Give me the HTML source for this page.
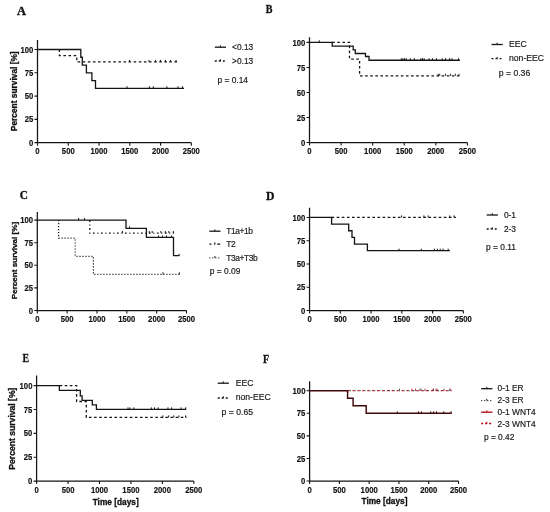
<!DOCTYPE html>
<html><head><meta charset="utf-8">
<style>
html,body{margin:0;padding:0;background:#fff;}
body{width:550px;height:512px;overflow:hidden;}
svg{display:block;will-change:transform;}
text{font-family:"Liberation Sans", sans-serif;fill:#111;}
.tk{font-size:7.7px;font-weight:bold;stroke:#111;stroke-width:0.15px;}
.lg{font-size:8.4px;fill:#1a1a1a;stroke:#1a1a1a;stroke-width:0.18px;}
.lc{letter-spacing:-0.4px;}
.lb{font-size:8.65px;}
.yl{font-size:7.9px;font-weight:bold;stroke:#111;stroke-width:0.3px;}
.xl{font-size:8.3px;font-weight:bold;stroke:#111;stroke-width:0.3px;}
.pl{font-family:"Liberation Serif", serif;font-size:12.5px;font-weight:bold;stroke:#111;stroke-width:0.35px;}
</style></head>
<body>
<svg width="550" height="512" viewBox="0 0 550 512">
<rect width="550" height="512" fill="#fff"/>
<text transform="translate(17.0 14.6) scale(1.0 1)" class="pl">A</text>
<text transform="translate(265.8 12.9) scale(0.8 1)" class="pl">B</text>
<text transform="translate(19.8 199.0) scale(0.9 1)" class="pl">C</text>
<text transform="translate(266.0 199.8) scale(0.94 1)" class="pl">D</text>
<text transform="translate(22.6 361.9) scale(0.78 1)" class="pl">E</text>
<text transform="translate(263.1 362.9) scale(0.8 1)" class="pl">F</text>
<path d="M37.50 40.00V142.65H191.35" fill="none" stroke="#141414" stroke-width="1.25"/>
<text transform="translate(33.30 145.75) scale(1 1.12)" text-anchor="end" class="tk">0</text>
<text transform="translate(33.30 122.46) scale(1 1.12)" text-anchor="end" class="tk">25</text>
<text transform="translate(33.30 99.17) scale(1 1.12)" text-anchor="end" class="tk">50</text>
<text transform="translate(33.30 75.89) scale(1 1.12)" text-anchor="end" class="tk">75</text>
<text transform="translate(33.30 52.60) scale(1 1.12)" text-anchor="end" class="tk">100</text>
<text transform="translate(37.50 154.15) scale(1 1.12)" text-anchor="middle" class="tk">0</text>
<text transform="translate(68.27 154.15) scale(1 1.12)" text-anchor="middle" class="tk">500</text>
<text transform="translate(99.04 154.15) scale(1 1.12)" text-anchor="middle" class="tk">1000</text>
<text transform="translate(129.81 154.15) scale(1 1.12)" text-anchor="middle" class="tk">1500</text>
<text transform="translate(160.58 154.15) scale(1 1.12)" text-anchor="middle" class="tk">2000</text>
<text transform="translate(191.35 154.15) scale(1 1.12)" text-anchor="middle" class="tk">2500</text>
<path d="M34.50 142.65H37.50M34.50 119.36H37.50M34.50 96.08H37.50M34.50 72.79H37.50M34.50 49.50H37.50M37.50 142.65V145.65M68.27 142.65V145.65M99.04 142.65V145.65M129.81 142.65V145.65M160.58 142.65V145.65M191.35 142.65V145.65" stroke="#141414" stroke-width="1.1"/>
<path d="M59.40 49.50H59.40V55.71H76.80V61.92H178.50" fill="none" stroke="#141414" stroke-width="1.3" stroke-dasharray="2.6 2.5"/>
<path d="M129.50 61.92v-2.00M149.00 61.92v-2.00M155.60 61.92v-2.00M160.50 61.92v-2.00M165.50 61.92v-2.00M170.40 61.92v-2.00M176.00 61.92v-2.00" fill="none" stroke="#141414" stroke-width="1.0"/>
<path d="M37.50 49.50H80.80V57.26H82.30V65.03H86.40V72.79H91.90V80.55H95.50V88.32H183.90" fill="none" stroke="#141414" stroke-width="1.3"/>
<path d="M127.00 88.32v-2.00M149.40 88.32v-2.00M153.30 88.32v-2.00M166.90 88.32v-2.00M178.00 88.32v-2.00M182.60 88.32v-2.00" fill="none" stroke="#141414" stroke-width="1.0"/>
<path d="M214.80 47.20h11.2" stroke="#141414" stroke-width="1.3"/><path d="M220.40 47.20v-1.8" stroke="#141414" stroke-width="1"/>
<path d="M214.80 61.00h11.2" stroke="#141414" stroke-width="1.3" stroke-dasharray="2 2"/><path d="M220.40 61.00v-1.8" stroke="#141414" stroke-width="1"/>
<text x="232.00" y="50.00" class="lg" text-anchor="start">&lt;0.13</text>
<text x="232.00" y="63.70" class="lg" text-anchor="start">&gt;0.13</text>
<text x="217.50" y="83.00" class="lg" text-anchor="start">p = 0.14</text>
<text transform="translate(16.50 91.25) rotate(-90)" text-anchor="middle" class="yl" style="font-size:8.35px">Percent survival [%]</text>
<path d="M309.50 37.30V142.55H467.40" fill="none" stroke="#141414" stroke-width="1.25"/>
<text transform="translate(305.30 145.65) scale(1 1.12)" text-anchor="end" class="tk">0</text>
<text transform="translate(305.30 120.61) scale(1 1.12)" text-anchor="end" class="tk">25</text>
<text transform="translate(305.30 95.58) scale(1 1.12)" text-anchor="end" class="tk">50</text>
<text transform="translate(305.30 70.54) scale(1 1.12)" text-anchor="end" class="tk">75</text>
<text transform="translate(305.30 45.50) scale(1 1.12)" text-anchor="end" class="tk">100</text>
<text transform="translate(309.50 154.05) scale(1 1.12)" text-anchor="middle" class="tk">0</text>
<text transform="translate(341.08 154.05) scale(1 1.12)" text-anchor="middle" class="tk">500</text>
<text transform="translate(372.66 154.05) scale(1 1.12)" text-anchor="middle" class="tk">1000</text>
<text transform="translate(404.24 154.05) scale(1 1.12)" text-anchor="middle" class="tk">1500</text>
<text transform="translate(435.82 154.05) scale(1 1.12)" text-anchor="middle" class="tk">2000</text>
<text transform="translate(467.40 154.05) scale(1 1.12)" text-anchor="middle" class="tk">2500</text>
<path d="M306.50 142.55H309.50M306.50 117.51H309.50M306.50 92.48H309.50M306.50 67.44H309.50M306.50 42.40H309.50M309.50 142.55V145.55M341.08 142.55V145.55M372.66 142.55V145.55M404.24 142.55V145.55M435.82 142.55V145.55M467.40 142.55V145.55" stroke="#141414" stroke-width="1.1"/>
<path d="M332.20 42.40H349.50V59.10H359.60V75.78H459.40" fill="none" stroke="#141414" stroke-width="1.3" stroke-dasharray="2.6 2.5"/>
<path d="M438.10 75.78v-2.00M439.70 75.78v-2.00M445.50 75.78v-2.00M450.40 75.78v-2.00M455.30 75.78v-2.00M458.90 75.78v-2.00" fill="none" stroke="#141414" stroke-width="1.0"/>
<path d="M309.50 42.40H332.20V46.11H353.20V49.81H355.30V53.52H365.50V56.52H369.00V60.23H459.90" fill="none" stroke="#141414" stroke-width="1.3"/>
<path d="M319.30 42.40v-2.00M401.30 60.23v-2.00M402.90 60.23v-2.00M404.50 60.23v-2.00M406.20 60.23v-2.00M410.30 60.23v-2.00M414.40 60.23v-2.00M420.90 60.23v-2.00M422.50 60.23v-2.00M424.20 60.23v-2.00M429.10 60.23v-2.00M432.40 60.23v-2.00M436.50 60.23v-2.00M442.20 60.23v-2.00M445.50 60.23v-2.00M449.60 60.23v-2.00M452.00 60.23v-2.00M458.60 60.23v-2.00" fill="none" stroke="#141414" stroke-width="1.0"/>
<path d="M491.50 44.50h11.2" stroke="#141414" stroke-width="1.3"/><path d="M497.10 44.50v-1.8" stroke="#141414" stroke-width="1"/>
<path d="M491.50 58.70h11.2" stroke="#141414" stroke-width="1.3" stroke-dasharray="2 2"/><path d="M497.10 58.70v-1.8" stroke="#141414" stroke-width="1"/>
<text x="509.00" y="47.30" class="lg lb" text-anchor="start">EEC</text>
<text x="509.00" y="61.40" class="lg lb" text-anchor="start">non-EEC</text>
<text x="498.80" y="76.30" class="lg lb" text-anchor="start">p = 0.36</text>
<path d="M37.30 212.00V310.50H186.50" fill="none" stroke="#141414" stroke-width="1.25"/>
<text transform="translate(33.10 313.60) scale(1 1.12)" text-anchor="end" class="tk">0</text>
<text transform="translate(33.10 291.00) scale(1 1.12)" text-anchor="end" class="tk">25</text>
<text transform="translate(33.10 268.40) scale(1 1.12)" text-anchor="end" class="tk">50</text>
<text transform="translate(33.10 245.80) scale(1 1.12)" text-anchor="end" class="tk">75</text>
<text transform="translate(33.10 223.20) scale(1 1.12)" text-anchor="end" class="tk">100</text>
<text transform="translate(37.30 322.00) scale(1 1.12)" text-anchor="middle" class="tk">0</text>
<text transform="translate(67.14 322.00) scale(1 1.12)" text-anchor="middle" class="tk">500</text>
<text transform="translate(96.98 322.00) scale(1 1.12)" text-anchor="middle" class="tk">1000</text>
<text transform="translate(126.82 322.00) scale(1 1.12)" text-anchor="middle" class="tk">1500</text>
<text transform="translate(156.66 322.00) scale(1 1.12)" text-anchor="middle" class="tk">2000</text>
<text transform="translate(186.50 322.00) scale(1 1.12)" text-anchor="middle" class="tk">2500</text>
<path d="M34.30 310.50H37.30M34.30 287.90H37.30M34.30 265.30H37.30M34.30 242.70H37.30M34.30 220.10H37.30M37.30 310.50V313.50M67.14 310.50V313.50M96.98 310.50V313.50M126.82 310.50V313.50M156.66 310.50V313.50M186.50 310.50V313.50" stroke="#141414" stroke-width="1.1"/>
<path d="M58.60 220.10H58.60V238.18H75.20V256.26H93.40V274.34H179.60" fill="none" stroke="#141414" stroke-width="1.25" stroke-dasharray="1.1 1.9"/>
<path d="M163.00 274.34v-2.00M179.30 274.34v-2.00" fill="none" stroke="#141414" stroke-width="1.0"/>
<path d="M89.80 220.10H89.80V233.03H174.00" fill="none" stroke="#141414" stroke-width="1.3" stroke-dasharray="1.8 2.6 1.1 2.5"/>
<path d="M84.50 220.10v-2.00M122.40 233.03v-2.00M149.30 233.03v-2.00M152.20 233.03v-2.00M160.90 233.03v-2.00M165.30 233.03v-2.00M168.90 233.03v-2.00M173.30 233.03v-2.00" fill="none" stroke="#141414" stroke-width="1.0"/>
<path d="M37.30 220.10H126.00V228.33H146.40V237.46H173.50V255.72H179.30" fill="none" stroke="#141414" stroke-width="1.3"/>
<path d="M78.60 220.10v-2.00M129.60 228.33v-2.00M158.50 237.46v-2.00M162.60 237.46v-2.00M166.50 237.46v-2.00M171.60 237.46v-2.00M179.10 255.72v-2.00" fill="none" stroke="#141414" stroke-width="1.0"/>
<path d="M209.30 231.20h11.2" stroke="#141414" stroke-width="1.3"/><path d="M214.90 231.20v-1.8" stroke="#141414" stroke-width="1"/>
<path d="M209.30 244.20h11.2" stroke="#141414" stroke-width="1.3" stroke-dasharray="2.1 2.6 1 2.2 3 10"/><path d="M214.90 244.20v-1.8" stroke="#141414" stroke-width="1"/>
<path d="M209.30 257.90h11.2" stroke="#141414" stroke-width="1.0" stroke-dasharray="1.1 1.9"/><path d="M214.90 257.90v-1.8" stroke="#141414" stroke-width="1"/>
<text x="226.30" y="233.70" class="lg lc" text-anchor="start">T1a+1b</text>
<text x="226.30" y="247.20" class="lg lc" text-anchor="start">T2</text>
<text x="226.30" y="260.60" class="lg lc" text-anchor="start">T3a+T3b</text>
<text x="209.80" y="273.60" class="lg" text-anchor="start">p = 0.09</text>
<text transform="translate(16.60 260.50) rotate(-90)" text-anchor="middle" class="yl" style="font-size:8.1px">Percent survival [%]</text>
<path d="M309.55 207.80V310.50H463.35" fill="none" stroke="#141414" stroke-width="1.25"/>
<text transform="translate(305.35 313.60) scale(1 1.12)" text-anchor="end" class="tk">0</text>
<text transform="translate(305.35 290.34) scale(1 1.12)" text-anchor="end" class="tk">25</text>
<text transform="translate(305.35 267.08) scale(1 1.12)" text-anchor="end" class="tk">50</text>
<text transform="translate(305.35 243.81) scale(1 1.12)" text-anchor="end" class="tk">75</text>
<text transform="translate(305.35 220.55) scale(1 1.12)" text-anchor="end" class="tk">100</text>
<text transform="translate(309.55 322.00) scale(1 1.12)" text-anchor="middle" class="tk">0</text>
<text transform="translate(340.31 322.00) scale(1 1.12)" text-anchor="middle" class="tk">500</text>
<text transform="translate(371.07 322.00) scale(1 1.12)" text-anchor="middle" class="tk">1000</text>
<text transform="translate(401.83 322.00) scale(1 1.12)" text-anchor="middle" class="tk">1500</text>
<text transform="translate(432.59 322.00) scale(1 1.12)" text-anchor="middle" class="tk">2000</text>
<text transform="translate(463.35 322.00) scale(1 1.12)" text-anchor="middle" class="tk">2500</text>
<path d="M306.55 310.50H309.55M306.55 287.24H309.55M306.55 263.98H309.55M306.55 240.71H309.55M306.55 217.45H309.55M309.55 310.50V313.50M340.31 310.50V313.50M371.07 310.50V313.50M401.83 310.50V313.50M432.59 310.50V313.50M463.35 310.50V313.50" stroke="#141414" stroke-width="1.1"/>
<path d="M331.60 217.45H455.90" fill="none" stroke="#141414" stroke-width="1.3" stroke-dasharray="2.6 2.5"/>
<path d="M401.60 217.45v-2.00M423.90 217.45v-2.00M428.10 217.45v-2.00M449.60 217.45v-2.00M454.00 217.45v-2.00" fill="none" stroke="#141414" stroke-width="1.0"/>
<path d="M309.55 217.45H331.60V224.09H348.70V230.75H352.00V237.39H354.50V244.03H367.40V250.68H449.90" fill="none" stroke="#141414" stroke-width="1.3"/>
<path d="M399.00 250.68v-2.00M421.30 250.68v-2.00M434.40 250.68v-2.00M437.30 250.68v-2.00M440.20 250.68v-2.00M443.10 250.68v-2.00M448.20 250.68v-2.00" fill="none" stroke="#141414" stroke-width="1.0"/>
<path d="M486.70 215.00h11.2" stroke="#141414" stroke-width="1.3"/><path d="M492.30 215.00v-1.8" stroke="#141414" stroke-width="1"/>
<path d="M486.70 229.00h11.2" stroke="#141414" stroke-width="1.3" stroke-dasharray="2 2"/><path d="M492.30 229.00v-1.8" stroke="#141414" stroke-width="1"/>
<text x="503.90" y="217.80" class="lg" text-anchor="start">0-1</text>
<text x="503.90" y="231.70" class="lg" text-anchor="start">2-3</text>
<text x="486.10" y="250.30" class="lg" text-anchor="start">p = 0.11</text>
<path d="M36.60 375.60V481.10H193.80" fill="none" stroke="#141414" stroke-width="1.25"/>
<text transform="translate(32.40 484.20) scale(1 1.12)" text-anchor="end" class="tk">0</text>
<text transform="translate(32.40 460.33) scale(1 1.12)" text-anchor="end" class="tk">25</text>
<text transform="translate(32.40 436.45) scale(1 1.12)" text-anchor="end" class="tk">50</text>
<text transform="translate(32.40 412.58) scale(1 1.12)" text-anchor="end" class="tk">75</text>
<text transform="translate(32.40 388.70) scale(1 1.12)" text-anchor="end" class="tk">100</text>
<text transform="translate(36.60 492.60) scale(1 1.12)" text-anchor="middle" class="tk">0</text>
<text transform="translate(68.04 492.60) scale(1 1.12)" text-anchor="middle" class="tk">500</text>
<text transform="translate(99.48 492.60) scale(1 1.12)" text-anchor="middle" class="tk">1000</text>
<text transform="translate(130.92 492.60) scale(1 1.12)" text-anchor="middle" class="tk">1500</text>
<text transform="translate(162.36 492.60) scale(1 1.12)" text-anchor="middle" class="tk">2000</text>
<text transform="translate(193.80 492.60) scale(1 1.12)" text-anchor="middle" class="tk">2500</text>
<path d="M33.60 481.10H36.60M33.60 457.23H36.60M33.60 433.35H36.60M33.60 409.48H36.60M33.60 385.60H36.60M36.60 481.10V484.10M68.04 481.10V484.10M99.48 481.10V484.10M130.92 481.10V484.10M162.36 481.10V484.10M193.80 481.10V484.10" stroke="#141414" stroke-width="1.1"/>
<path d="M59.60 385.60H76.60V401.52H86.30V417.43H186.60" fill="none" stroke="#141414" stroke-width="1.3" stroke-dasharray="2.6 2.5"/>
<path d="M162.90 417.43v-2.00M168.70 417.43v-2.00M173.80 417.43v-2.00M178.90 417.43v-2.00M185.50 417.43v-2.00" fill="none" stroke="#141414" stroke-width="1.0"/>
<path d="M36.60 385.60H59.40V390.47H80.30V395.82H82.10V400.31H92.30V404.89H96.40V409.38H186.20" fill="none" stroke="#141414" stroke-width="1.3"/>
<path d="M128.00 409.38v-2.00M129.90 409.38v-2.00M133.80 409.38v-2.00M151.30 409.38v-2.00M154.50 409.38v-2.00M158.10 409.38v-2.00M168.00 409.38v-2.00M171.60 409.38v-2.00M181.10 409.38v-2.00M185.70 409.38v-2.00" fill="none" stroke="#141414" stroke-width="1.0"/>
<path d="M217.70 383.20h11.2" stroke="#141414" stroke-width="1.3"/><path d="M223.30 383.20v-1.8" stroke="#141414" stroke-width="1"/>
<path d="M217.70 398.00h11.2" stroke="#141414" stroke-width="1.3" stroke-dasharray="2 2"/><path d="M223.30 398.00v-1.8" stroke="#141414" stroke-width="1"/>
<text x="235.70" y="386.10" class="lg lb" text-anchor="start">EEC</text>
<text x="235.70" y="400.30" class="lg lb" text-anchor="start">non-EEC</text>
<text x="221.60" y="414.60" class="lg lb" text-anchor="start">p = 0.65</text>
<text transform="translate(14.80 428.60) rotate(-90)" text-anchor="middle" class="yl" style="font-size:8.6px">Percent survival [%]</text>
<text x="115.70" y="504.90" class="xl" text-anchor="middle">Time [days]</text>
<path d="M309.60 381.30V481.00H458.50" fill="none" stroke="#141414" stroke-width="1.25"/>
<text transform="translate(305.40 484.10) scale(1 1.12)" text-anchor="end" class="tk">0</text>
<text transform="translate(305.40 461.53) scale(1 1.12)" text-anchor="end" class="tk">25</text>
<text transform="translate(305.40 438.95) scale(1 1.12)" text-anchor="end" class="tk">50</text>
<text transform="translate(305.40 416.38) scale(1 1.12)" text-anchor="end" class="tk">75</text>
<text transform="translate(305.40 393.80) scale(1 1.12)" text-anchor="end" class="tk">100</text>
<text transform="translate(309.60 492.50) scale(1 1.12)" text-anchor="middle" class="tk">0</text>
<text transform="translate(339.38 492.50) scale(1 1.12)" text-anchor="middle" class="tk">500</text>
<text transform="translate(369.16 492.50) scale(1 1.12)" text-anchor="middle" class="tk">1000</text>
<text transform="translate(398.94 492.50) scale(1 1.12)" text-anchor="middle" class="tk">1500</text>
<text transform="translate(428.72 492.50) scale(1 1.12)" text-anchor="middle" class="tk">2000</text>
<text transform="translate(458.50 492.50) scale(1 1.12)" text-anchor="middle" class="tk">2500</text>
<path d="M306.60 481.00H309.60M306.60 458.43H309.60M306.60 435.85H309.60M306.60 413.27H309.60M306.60 390.70H309.60M309.60 481.00V484.00M339.38 481.00V484.00M369.16 481.00V484.00M398.94 481.00V484.00M428.72 481.00V484.00M458.50 481.00V484.00" stroke="#141414" stroke-width="1.1"/>
<path d="M347.60 390.70H451.80" fill="none" stroke="#505a55" stroke-width="1.2" stroke-dasharray="0 2.2 1 1.7"/>
<path d="M399.50 390.70v-2.00M421.00 390.70v-2.00M433.50 390.70v-2.00M437.00 390.70v-2.00M450.00 390.70v-2.00" fill="none" stroke="#505a55" stroke-width="1.0"/>
<path d="M347.60 390.70H451.80" fill="none" stroke="#b02a3a" stroke-width="1.3" stroke-dasharray="2.2 2.7"/>
<path d="M412.00 390.70v-2.00M415.50 390.70v-2.00M420.00 390.70v-2.00M425.00 390.70v-2.00M433.00 390.70v-2.00M436.00 390.70v-2.00M444.00 390.70v-2.00M450.00 390.70v-2.00" fill="none" stroke="#b02a3a" stroke-width="1.0"/>
<path d="M309.60 390.70H347.60V398.22H353.10V405.75H366.20V413.27H451.80" fill="none" stroke="#420707" stroke-width="1.45"/>
<path d="M397.30 413.27v-2.00M418.40 413.27v-2.00M421.30 413.27v-2.00M430.70 413.27v-2.00M433.60 413.27v-2.00M436.50 413.27v-2.00M443.80 413.27v-2.00M451.00 413.27v-2.00" fill="none" stroke="#420707" stroke-width="1.0"/>
<path d="M481.20 388.70h11.2" stroke="#141414" stroke-width="1.3"/><path d="M486.80 388.70v-1.8" stroke="#141414" stroke-width="1"/>
<path d="M481.20 400.60h11.2" stroke="#141414" stroke-width="1.0" stroke-dasharray="1.1 1.9"/><path d="M486.80 400.60v-1.8" stroke="#141414" stroke-width="1"/>
<path d="M481.20 412.20h11.2" stroke="#b3000c" stroke-width="1.3"/><path d="M486.80 412.20v-1.8" stroke="#b3000c" stroke-width="1"/>
<path d="M481.20 423.50h11.2" stroke="#b3000c" stroke-width="1.3" stroke-dasharray="2 2"/><path d="M486.80 423.50v-1.8" stroke="#b3000c" stroke-width="1"/>
<text x="497.60" y="391.10" class="lg" text-anchor="start">0-1 ER</text>
<text x="497.60" y="403.40" class="lg" text-anchor="start">2-3 ER</text>
<text x="497.60" y="414.80" class="lg" text-anchor="start">0-1 WNT4</text>
<text x="497.60" y="426.80" class="lg" text-anchor="start">2-3 WNT4</text>
<text x="483.90" y="439.50" class="lg" text-anchor="start">p = 0.42</text>
<text x="384.50" y="503.60" class="xl" text-anchor="middle">Time [days]</text>
</svg>
</body></html>
